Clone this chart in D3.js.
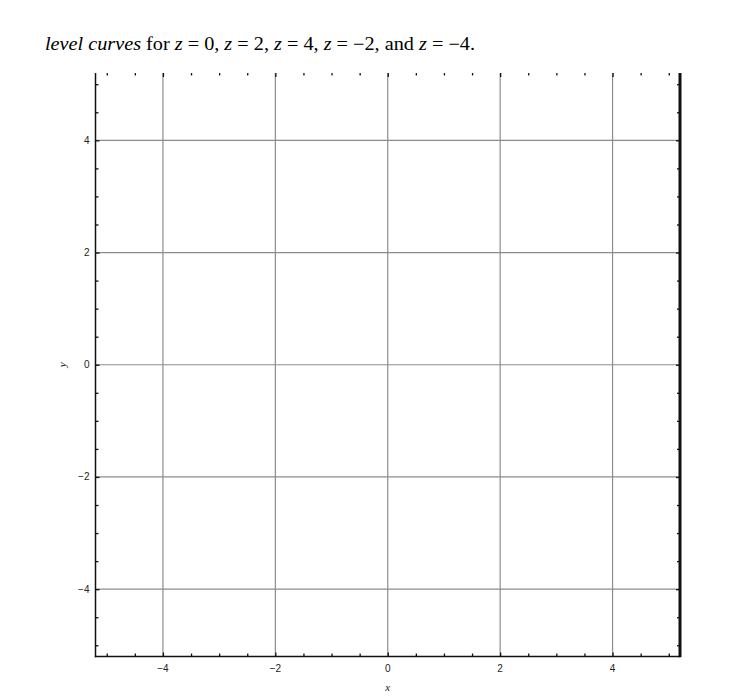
<!DOCTYPE html>
<html>
<head>
<meta charset="utf-8">
<script src="https://cdn.jsdelivr.net/npm/d3@7"></script>
<style>
  body { margin: 0; background: #fff; }
  svg { display: block; }
</style>
</head>
<body>
<div id="chart"></div>
<script>
// values
const levels = [0, 2, 4, -2, -4]
const xDomain = [-5.2, 5.2]
const yDomain = [-5.2, 5.2]
const majorTicks = [-4, -2, 0, 2, 4]
const minorTicks = [-5, -4.5, -3.5, -3, -2.5, -1.5, -1, -0.5, 0.5, 1, 1.5, 2.5, 3, 3.5, 4.5, 5]
const axisNames = ["x", "y"]

const w = 743
const h = 699
const box = { left: 95.5, right: 680, top: 73, bottom: 656.5 }

const svg = d3.select("#chart").append("svg")
    .attr("width", w)
    .attr("height", h)

const x = d3.scaleLinear().domain(xDomain).range([box.left, box.right])
const y = d3.scaleLinear().domain(yDomain).range([box.bottom, box.top])

// title, mixed italic / roman like the TeX original
const title = svg.append("text")
    .attr("x", 45)
    .attr("y", 50)
    .style("font-family", "'Liberation Serif', 'DejaVu Serif', serif")
    .style("font-size", "18px")
    .style("fill", "#000")

title.append("tspan").style("font-style", "italic").text("level curves")
title.append("tspan").text(" for ")
levels.forEach((v, i) => {
    if (i === levels.length - 1) title.append("tspan").text("and ")
    title.append("tspan").style("font-style", "italic").text("z")
    const num = v < 0 ? "\u2212" + Math.abs(v) : String(v)
    title.append("tspan").text(" = " + num + (i === levels.length - 1 ? "." : ", "))
})
// stretch to the width seen in the picture
title.attr("textLength", 430).attr("lengthAdjust", "spacingAndGlyphs")

// grid
const grid = svg.append("g").attr("class", "grid")
grid.selectAll(".vgrid")
    .data(majorTicks)
    .enter().append("line")
    .attr("class", "vgrid")
    .attr("x1", d => x(d)).attr("x2", d => x(d))
    .attr("y1", box.top).attr("y2", box.bottom)
    .style("stroke", "#8c8c8c")
    .style("stroke-width", 1.2)
grid.selectAll(".hgrid")
    .data(majorTicks)
    .enter().append("line")
    .attr("class", "hgrid")
    .attr("y1", d => y(d)).attr("y2", d => y(d))
    .attr("x1", box.left).attr("x2", box.right)
    .style("stroke", "#8c8c8c")
    .style("stroke-width", 1.2)

// axes with inward ticks
function tickAxis(axisFn, scale, ticks, len) {
    return axisFn(scale).tickValues(ticks).tickSize(len).tickFormat("")
}

const frame = svg.append("g").attr("class", "frame")

// bottom
frame.append("g").attr("transform", `translate(0,${box.bottom})`)
    .call(tickAxis(d3.axisTop, x, majorTicks, 4))
frame.append("g").attr("transform", `translate(0,${box.bottom})`)
    .call(tickAxis(d3.axisTop, x, minorTicks, 3))
// top (ticks only)
frame.append("g").attr("transform", `translate(0,${box.top})`)
    .call(tickAxis(d3.axisBottom, x, majorTicks, 4))
frame.append("g").attr("transform", `translate(0,${box.top})`)
    .call(tickAxis(d3.axisBottom, x, minorTicks, 2.5))
// left
frame.append("g").attr("transform", `translate(${box.left},0)`)
    .call(tickAxis(d3.axisRight, y, majorTicks, 4))
frame.append("g").attr("transform", `translate(${box.left},0)`)
    .call(tickAxis(d3.axisRight, y, minorTicks, 3))
// right
frame.append("g").attr("transform", `translate(${box.right},0)`)
    .call(tickAxis(d3.axisLeft, y, majorTicks, 4))
frame.append("g").attr("transform", `translate(${box.right},0)`)
    .call(tickAxis(d3.axisLeft, y, minorTicks, 3))

frame.selectAll(".domain").remove()
frame.selectAll(".tick line").style("stroke", "#111").style("stroke-width", 1.3)

// frame lines: left, bottom thin, right heavy, no top line
frame.append("line")
    .attr("x1", box.left).attr("x2", box.left)
    .attr("y1", box.top).attr("y2", box.bottom + 0.7)
    .style("stroke", "#111").style("stroke-width", 1.5)
frame.append("line")
    .attr("x1", box.left - 0.7).attr("x2", box.right)
    .attr("y1", box.bottom).attr("y2", box.bottom)
    .style("stroke", "#111").style("stroke-width", 1.5)
frame.append("line")
    .attr("x1", box.right).attr("x2", box.right)
    .attr("y1", box.top).attr("y2", box.bottom + 0.7)
    .style("stroke", "#111").style("stroke-width", 3)

// tick labels
const fmt = d => d < 0 ? "\u2212" + Math.abs(d) : String(d)
svg.append("g").selectAll("text")
    .data(majorTicks)
    .enter().append("text")
    .attr("x", d => x(d))
    .attr("y", box.bottom + 15)
    .attr("text-anchor", "middle")
    .style("font-family", "'Liberation Sans', Arial, sans-serif")
    .style("font-size", "10px")
    .style("fill", "#222")
    .text(fmt)

svg.append("g").selectAll("text")
    .data(majorTicks)
    .enter().append("text")
    .attr("x", box.left - 6)
    .attr("y", d => y(d) + 3.5)
    .attr("text-anchor", "end")
    .style("font-family", "'Liberation Sans', Arial, sans-serif")
    .style("font-size", "10px")
    .style("fill", "#222")
    .text(fmt)

// axis names
svg.append("text")
    .attr("x", x(0))
    .attr("y", 691)
    .attr("text-anchor", "middle")
    .style("font-family", "'Liberation Serif', serif")
    .style("font-style", "italic")
    .style("font-size", "11px")
    .style("fill", "#222")
    .text(axisNames[0])

svg.append("text")
    .attr("transform", `translate(63,${y(0)}) rotate(-90)`)
    .attr("text-anchor", "middle")
    .attr("dy", "0.3em")
    .style("font-family", "'Liberation Serif', serif")
    .style("font-style", "italic")
    .style("font-size", "11px")
    .style("fill", "#222")
    .text(axisNames[1])
</script>
</body>
</html>
